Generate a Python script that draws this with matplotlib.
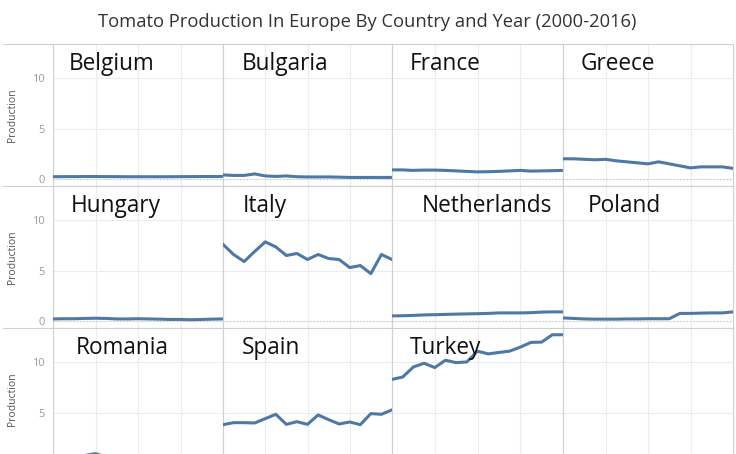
# Tomato production small multiples
import matplotlib.pyplot as plt
from matplotlib.lines import Line2D

years = list(range(2000, 2017))

countries = ["Belgium", "Bulgaria", "France", "Greece",
             "Hungary", "Italy", "Netherlands", "Poland",
             "Romania", "Spain", "Turkey"]

belgium = [0.22, 0.23, 0.23, 0.24, 0.24, 0.23, 0.23, 0.22, 0.22, 0.22, 0.22, 0.22, 0.23, 0.23, 0.24, 0.24, 0.25]
bulgaria = [0.40, 0.35, 0.35, 0.50, 0.30, 0.25, 0.30, 0.22, 0.20, 0.20, 0.20, 0.18, 0.15, 0.15, 0.15, 0.15, 0.15]
france = [0.90, 0.90, 0.85, 0.88, 0.88, 0.85, 0.80, 0.75, 0.70, 0.72, 0.75, 0.80, 0.85, 0.78, 0.80, 0.82, 0.85]
greece = [2.00, 2.00, 1.95, 1.90, 1.95, 1.80, 1.70, 1.60, 1.50, 1.70, 1.50, 1.30, 1.10, 1.20, 1.20, 1.20, 1.05]
hungary = [0.20, 0.22, 0.22, 0.25, 0.27, 0.25, 0.20, 0.20, 0.22, 0.20, 0.18, 0.15, 0.15, 0.12, 0.15, 0.18, 0.20]
italy = [7.60, 6.60, 5.90, 6.90, 7.85, 7.35, 6.50, 6.70, 6.10, 6.60, 6.20, 6.10, 5.30, 5.50, 4.70, 6.60, 6.10]
netherlands = [0.50, 0.52, 0.55, 0.60, 0.62, 0.65, 0.68, 0.70, 0.72, 0.75, 0.80, 0.80, 0.80, 0.82, 0.88, 0.90, 0.90]
poland = [0.30, 0.25, 0.20, 0.18, 0.18, 0.18, 0.20, 0.20, 0.22, 0.22, 0.22, 0.75, 0.75, 0.78, 0.80, 0.80, 0.90]
romania = [0.63, 0.70, 0.65, 0.75, 0.92, 0.60, 0.75, 0.60, 0.75, 0.75, 0.72, 0.75, 0.70, 0.70, 0.70, 0.70, 0.70]
spain = [3.80, 4.00, 4.00, 3.97, 4.40, 4.83, 3.83, 4.10, 3.83, 4.77, 4.30, 3.87, 4.07, 3.80, 4.90, 4.83, 5.27]
turkey = [8.30, 8.53, 9.53, 9.90, 9.47, 10.20, 9.96, 10.03, 11.10, 10.83, 10.97, 11.10, 11.50, 11.97, 12.00, 12.73, 12.73]

series = [belgium, bulgaria, france, greece, hungary, italy,
          netherlands, poland, romania, spain, turkey]

# Layout in pixels
W, H = 736, 454
col_left = [53, 223, 392, 563]
col_right = 733
row_top = [44, 186, 328]
row_h = 142
label_dx = [16, 19, 18, 18, 18, 20, 30, 25, 23, 19, 18]

LINE_COLOR = "#4e79a7"
GRID_COLOR = "#ececec"
BORDER_COLOR = "#d0d0d0"

plt.rcParams['font.family'] = ['Open Sans', 'DejaVu Sans']

fig = plt.figure(figsize=(W / 100, H / 100), dpi=100)

fig.text(367.5 / W, 1 - 22 / H,
         "Tomato Production In Europe By Country and Year (2000-2016)",
         ha="center", va="center", fontsize=13.2, color="#333333")

for i in range(12):
    r, c = divmod(i, 4)
    x0 = col_left[c]
    x1 = col_left[c + 1] if c < 3 else col_right
    ax = fig.add_axes([x0 / W, 1 - (row_top[r] + row_h) / H,
                       (x1 - x0) / W, row_h / H])
    ax.set_xlim(2000, 2016)
    ax.set_ylim(-0.7, 13.4)
    ax.set_xticks([2004, 2008, 2012])
    # bottom row is cut by the image edge, its 0 label is not visible
    ax.set_yticks([0, 5, 10] if r < 2 else [5, 10])
    ax.grid(True, color=GRID_COLOR, linewidth=0.8)
    ax.axhline(0, color="#c8c8c8", linewidth=0.8, linestyle=(0, (1, 2)))
    ax.tick_params(length=0, labelbottom=False)
    for s in ax.spines.values():
        s.set_color(BORDER_COLOR)
        s.set_linewidth(0.8)
    if c == 0:
        ax.tick_params(axis="y", labelsize=8, labelcolor="#9a9a9a", pad=6)
        ax.set_ylabel("Production", fontsize=7.5, color="#555555", labelpad=10)
    else:
        ax.tick_params(axis="y", labelleft=False)
    ax.set_axisbelow(True)

    if i < len(countries):
        ax.plot(years, series[i], color=LINE_COLOR, linewidth=2.2, zorder=3)
        ax.text(label_dx[i] / (x1 - x0), 1 - 19.5 / row_h, countries[i],
                transform=ax.transAxes, ha="left", va="center",
                fontsize=16.3, color="#111111", zorder=4)

# row divider lines across the label margin
for y in row_top + [row_top[-1] + row_h]:
    fig.add_artist(Line2D([3 / W, col_left[0] / W], [1 - y / H, 1 - y / H],
                          color=BORDER_COLOR, linewidth=0.8))

plt.savefig("out.png", dpi=100)
